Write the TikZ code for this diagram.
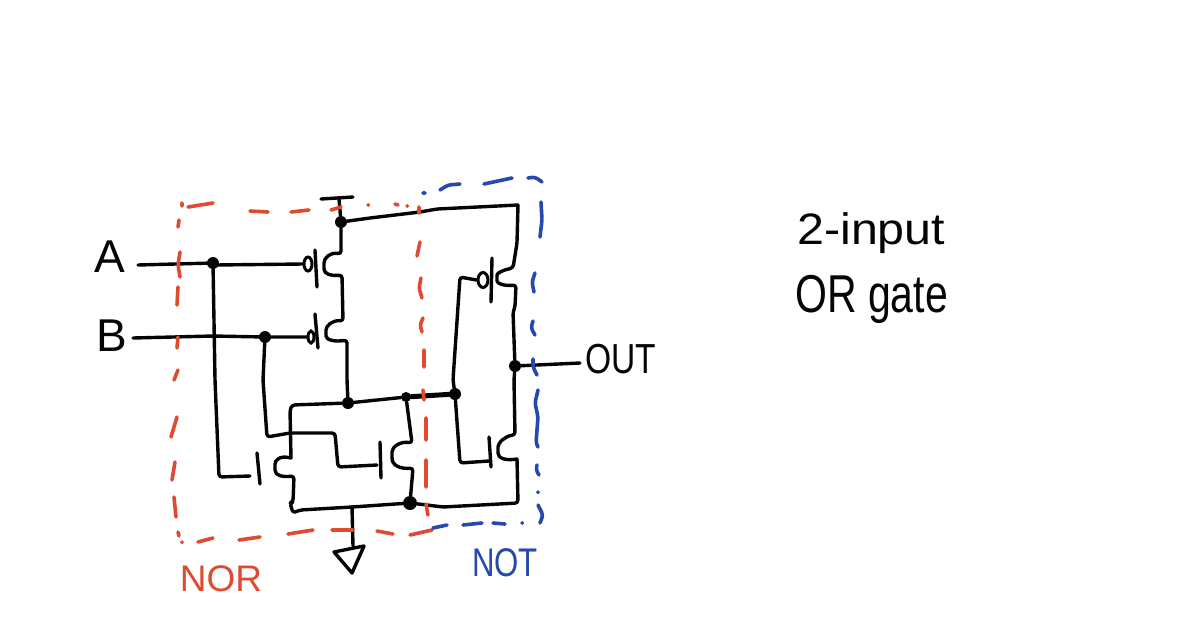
\documentclass[tikz,border=0pt]{standalone}
\usepackage{fontspec}
\usetikzlibrary{shapes.geometric}
\setmainfont{Liberation Sans}
\definecolor{redbox}{HTML}{DF4A32}
\definecolor{bluebox}{HTML}{2549AE}
\definecolor{ink}{HTML}{050505}
\tikzset{
  wire/.style={draw=ink,line width=3.4pt,line cap=round,line join=round,rounded corners=3pt},
  thick wire/.style={wire,line width=5pt},
  bubble/.style={ellipse,draw=ink,line width=3pt,inner sep=0pt,minimum width=8pt,minimum height=14pt},
  junction/.style={circle,fill=ink,inner sep=0pt,minimum size=12pt},
  nordash/.style={draw=redbox,line width=3.6pt,line cap=round,line join=round,rounded corners=3pt},
  notdash/.style={draw=bluebox,line width=3.6pt,line cap=round,line join=round,rounded corners=3pt},
  inklabel/.style={text=ink,inner sep=0pt},
}
\begin{document}
\begin{tikzpicture}[x=1pt,y=-1pt]
\useasboundingbox[fill=white] (0,0) rectangle (1190,630);
% junctions
\node[junction] (jvdd) at (341,222) {};
\node[junction] (ja) at (213,263) {};
\node[junction] (jb) at (265,337) {};
\node[junction] (jmid) at (348,403) {};
\node[junction,minimum size=10pt] (jmr) at (406,397) {};
\node[junction] (jinv) at (455,394) {};
\node[junction] (jout) at (515,366) {};
\node[junction,minimum size=14pt] (jgnd) at (410,503) {};
\coordinate (gndtap) at (352,507);
\coordinate (outend) at (580,363);
\coordinate (vddtop) at (339,199);
\coordinate (railcorner) at (518,205);
% bubbles
\node[bubble] (bubA) at (308,264) {};
\node[bubble,minimum height=12pt,minimum width=6pt] (bubB) at (311,337) {};
\node[bubble,minimum width=10pt,minimum height=15pt] (bubN) at (483,280) {};
% supply bar
\draw[wire] (321,199) -- (353,197);
\draw[wire] (vddtop) -- (jvdd);
% top rail
\draw[wire] (jvdd) -- (370,218) -- (420,212) -- (437,209) -- (railcorner);
% PMOS A, PMOS B stack
\draw[wire] (jvdd) -- (341,254) .. controls (330,252) and (324,258) .. (324,266) .. controls (324,274) and (331,276) .. (342,275)
  -- (343,321) .. controls (332,320) and (326,326) .. (326,333) .. controls (326,340) and (335,342) .. (347,340) -- (347,380) -- (jmid);
% gate wires A, B
\draw[wire] (138,265) -- (ja.center) -- (215,265) -- (bubA.west);
\draw[wire] (133,338) -- (213,336) -- (jb.center) -- (bubB.west);
\draw[wire] (315,250) -- (317,287);
\draw[wire] (315,314) -- (318,348);
% A to NMOS
\draw[wire] (ja) -- (215,380) -- (219,477) -- (250,476);
\draw[wire] (257,453) -- (260,484);
% B to NMOS
\draw[wire] (jb) -- (263,380) -- (267,437) -- (290,433) -- (335,433) -- (338,467) -- (377,465);
\draw[wire] (380,442) -- (381,478);
% mid rail
\draw[wire] (jinv) -- (jmr) -- (jmid) -- (292,405) -- (290,410) -- (291,458);
\draw[thick wire] (jmr) -- (jinv);
% NMOS A
\draw[wire] (291,458) .. controls (280,455) and (275,460) .. (275,467) .. controls (275,476) and (283,477) .. (294,476) -- (293,502) -- (290,503) -- (293,513) -- (300,510) -- (gndtap);
% NMOS B
\draw[wire] (jmr) -- (412,443) .. controls (400,441) and (392,447) .. (392,455) .. controls (392,466) and (401,469) .. (413,468) -- (jgnd);
% bottom rail
\draw[wire] (gndtap) -- (jgnd) -- (427,505) -- (443,507) -- (518,503) -- (517,459);
% ground
\draw[wire] (gndtap) -- (353,546);
\draw[wire,rounded corners=0pt] (334,552) -- (364,546) -- (352,573) -- cycle;
% NOT stage
\draw[wire] (railcorner) -- (517,243) -- (513,268) .. controls (503,270) and (497,273) .. (497,278) .. controls (497,284) and (505,286) .. (516,285) -- (515,307) -- (513,312) -- (jout);
\draw[wire] (jout) -- (514,380) -- (515,435) .. controls (505,436) and (498,443) .. (498,450) .. controls (498,458) and (505,461) .. (517,459);
\draw[wire] (492,258) -- (491,302);
\draw[wire] (bubN.west) -- (460,277) -- (453,380) -- (jinv);
\draw[wire] (jinv) -- (460,463) -- (489,461);
\draw[wire] (489,437) -- (491,467);
% output
\draw[wire] (jout) -- (outend);
% NOR dashed outline
\draw[nordash]
  (182,203) -- (182,206) (188,207) -- (213,203) (250,211) -- (268,212) (291,212) -- (309,210)
  (331,210) -- (341,207) (368,205) -- (368.5,205) (395,204) -- (398,205) (407,206) -- (407.5,206)
  (419,207) -- (419,213) (420,242) -- (417,256) (421,278) -- (419,288) -- (422,298)
  (423,318) -- (420,325) -- (422,332) (424,350) -- (424,367) (423,390) -- (424,400)
  (426,418) -- (426,440) (426,460) -- (426,487) (426,504) -- (428,515)
  (432,530) -- (410,535) (393,534) -- (377,531) (353,530) -- (332,530) (313,530) -- (288,534)
  (260,537) -- (239,540) (213,538) -- (198,542) (182,542) -- (182,542.5) (178,532) -- (179,536)
  (176,517) -- (174,497) (172,480) -- (175,462) (171,437) -- (177,417) (174,380) -- (178,370)
  (177,348) -- (178,337) (177,305) -- (178,287) (180,277) -- (178,265) -- (180,252)
  (178,227) -- (179,220);
% NOT dashed outline
\draw[notdash]
  (423,193) -- (425,193) (440,190) -- (448,185) -- (460,184) (484,184) -- (512,178)
  (528,178) -- (535,177) -- (542,182) (541,202) -- (542,220) -- (540,237)
  (535,273) -- (532,282) -- (534,292) (533,321) -- (531,328) -- (535,335)
  (533,359) -- (533,367) -- (537,375) (538,390) -- (535,403) -- (538,417) -- (536,443) -- (538,447)
  (537,465) -- (536,470) -- (539,475) (538,492) -- (538,492.5)
  (538,505) -- (543,515) -- (540,523) (522,523) -- (522.5,523)
  (505,524) -- (493,523) (482,523) -- (463,525) (447,525) -- (433,528);
% labels
\node[inklabel,font=\fontsize{46}{46}\selectfont] (lblA) at (110,257) {A};
\node[inklabel,font=\fontsize{46}{46}\selectfont] (lblB) at (112,336) {B};
\node[inklabel,font=\fontsize{42}{42}\selectfont,xscale=.8] (lblOut) at (621,359) {OUT};
\node[inklabel,text=redbox,font=\fontsize{37}{37}\selectfont] (lblNor) at (221,579) {NOR};
\node[inklabel,text=bluebox,font=\fontsize{40}{40}\selectfont,xscale=.78] (lblNot) at (505,563) {NOT};
\node[inklabel,font=\fontsize{44}{44}\selectfont,anchor=base west,xscale=1.1] (lblTwo) at (797,244) {2-input};
\node[inklabel,font=\fontsize{41}{41}\selectfont,anchor=base west,yscale=1.3] (lblGate) at (795,312) {OR gate};
\end{tikzpicture}
\end{document}
